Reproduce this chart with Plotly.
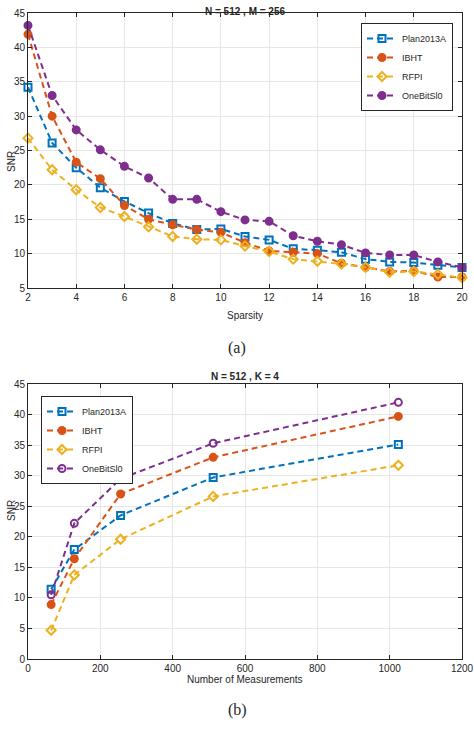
import plotly.graph_objects as go

# (a) SNR vs sparsity, N = 512, M = 256
sparsity = list(range(2, 21))
plan_a = [34.2, 26.1, 22.5, 19.6, 17.6, 15.9, 14.4, 13.5, 13.6, 12.5, 12.0, 10.7, 10.5, 10.2, 9.2, 8.8, 8.7, 8.3, 8.0]
ibht_a = [41.9, 30.0, 23.3, 20.9, 17.0, 15.0, 14.2, 13.5, 13.1, 11.6, 10.4, 10.2, 10.0, 8.6, 8.0, 7.4, 7.5, 6.6, 6.6]
rfpi_a = [26.8, 22.2, 19.3, 16.7, 15.4, 13.9, 12.5, 12.1, 12.0, 11.1, 10.3, 9.2, 8.9, 8.5, 8.0, 7.3, 7.4, 7.0, 6.5]
onebit_a = [43.2, 33.0, 28.0, 25.1, 22.7, 21.0, 17.9, 17.9, 16.1, 14.9, 14.7, 12.6, 11.8, 11.3, 10.1, 9.8, 9.8, 8.8, 8.0]

# (b) SNR vs number of measurements, N = 512, K = 4
measurements = [64, 128, 256, 512, 1024]
plan_b = [11.4, 17.9, 23.5, 29.7, 35.1]
ibht_b = [8.9, 16.4, 27.0, 33.0, 39.7]
rfpi_b = [4.7, 13.75, 19.6, 26.6, 31.7]
onebit_b = [10.5, 22.2, 29.5, 35.3, 42.0]

names = ["Plan2013A", "IBHT", "RFPI", "OneBitSl0"]
colors = ["#0072BD", "#D95319", "#EDB120", "#7E2F8E"]
symbols_a = ["square-open", "circle", "diamond-open", "circle"]
symbols_b = ["square-open", "circle", "diamond-open", "circle-open"]

W, H = 474, 731
font = "Liberation Sans, Arial, sans-serif"

fig = go.Figure()

for name, ys, c, s in zip(names, [plan_a, ibht_a, rfpi_a, onebit_a], colors, symbols_a):
    fig.add_trace(go.Scatter(
        x=sparsity, y=ys, name=name, mode="lines+markers", cliponaxis=False,
        line=dict(color=c, width=2, dash="6px,4px"),
        marker=dict(symbol=s, size=7, color=c, line=dict(color=c, width=2)),
        xaxis="x", yaxis="y", legend="legend"))

for name, ys, c, s in zip(names, [plan_b, ibht_b, rfpi_b, onebit_b], colors, symbols_b):
    fig.add_trace(go.Scatter(
        x=measurements, y=ys, name=name, mode="lines+markers", cliponaxis=False,
        line=dict(color=c, width=2, dash="6px,4px"),
        marker=dict(symbol=s, size=7, color=c, line=dict(color=c, width=2)),
        xaxis="x2", yaxis="y2", legend="legend2"))

axis_style = dict(
    showline=True, linecolor="#262626", linewidth=1, mirror="ticks",
    ticks="inside", ticklen=4, tickcolor="#262626",
    showgrid=True, gridcolor="#e6e6e6", gridwidth=1,
    zeroline=False, automargin=False,
    tickfont=dict(family=font, size=10, color="#262626"),
)

fig.update_layout(
    width=W, height=H,
    margin=dict(l=0, r=0, t=0, b=0),
    paper_bgcolor="white", plot_bgcolor="white",
    showlegend=True,
    xaxis=dict(domain=[28 / W, 462 / W], range=[2, 20], dtick=2, anchor="y", **axis_style),
    yaxis=dict(domain=[1 - 288 / H, 1 - 13 / H], range=[5, 45], dtick=5, anchor="x", **axis_style),
    xaxis2=dict(domain=[28 / W, 462 / W], range=[0, 1200], dtick=200, anchor="y2", **axis_style),
    yaxis2=dict(domain=[1 - 659 / H, 1 - 384 / H], range=[0, 45], dtick=5, anchor="x2", **axis_style),
    legend=dict(x=453 / W, y=1 - 23 / H, xanchor="right", yanchor="top",
                bgcolor="white", bordercolor="#262626", borderwidth=1,
                font=dict(family=font, size=9, color="#262626"),
                tracegroupgap=0, itemwidth=30),
    legend2=dict(x=41 / W, y=1 - 396 / H, xanchor="left", yanchor="top",
                 bgcolor="white", bordercolor="#262626", borderwidth=1,
                 font=dict(family=font, size=9, color="#262626"),
                 tracegroupgap=0, itemwidth=30),
)

ann = [
    dict(text="<b>N = 512 , M = 256</b>", x=245 / W, y=1 - 5 / H, size=10, family=font, angle=0),
    dict(text="Sparsity", x=245 / W, y=1 - 315 / H, size=10, family=font, angle=0),
    dict(text="SNR", x=5 / W, y=1 - 150 / H, size=10, family=font, angle=-90),
    dict(text="(a)", x=237 / W, y=1 - 348 / H, size=16, family="Liberation Serif, Times New Roman, serif", angle=0),
    dict(text="<b>N = 512 , K = 4</b>", x=245 / W, y=1 - 376 / H, size=10, family=font, angle=0),
    dict(text="Number of Measurements", x=245 / W, y=1 - 686 / H, size=10, family=font, angle=0),
    dict(text="SNR", x=5 / W, y=1 - 522 / H, size=10, family=font, angle=-90),
    dict(text="(b)", x=237 / W, y=1 - 720 / H, size=16, family="Liberation Serif, Times New Roman, serif", angle=0),
]
for a in ann:
    fig.add_annotation(text=a["text"], x=a["x"], y=a["y"], xref="paper", yref="paper",
                       showarrow=False, textangle=a["angle"], borderpad=0,
                       font=dict(family=a["family"], size=a["size"], color="#262626"))

# drop the default page margin so the figure sits at the top-left corner
fig.write_html("out.html", config={"displayModeBar": False},
               post_script="document.body.style.margin='0';")
